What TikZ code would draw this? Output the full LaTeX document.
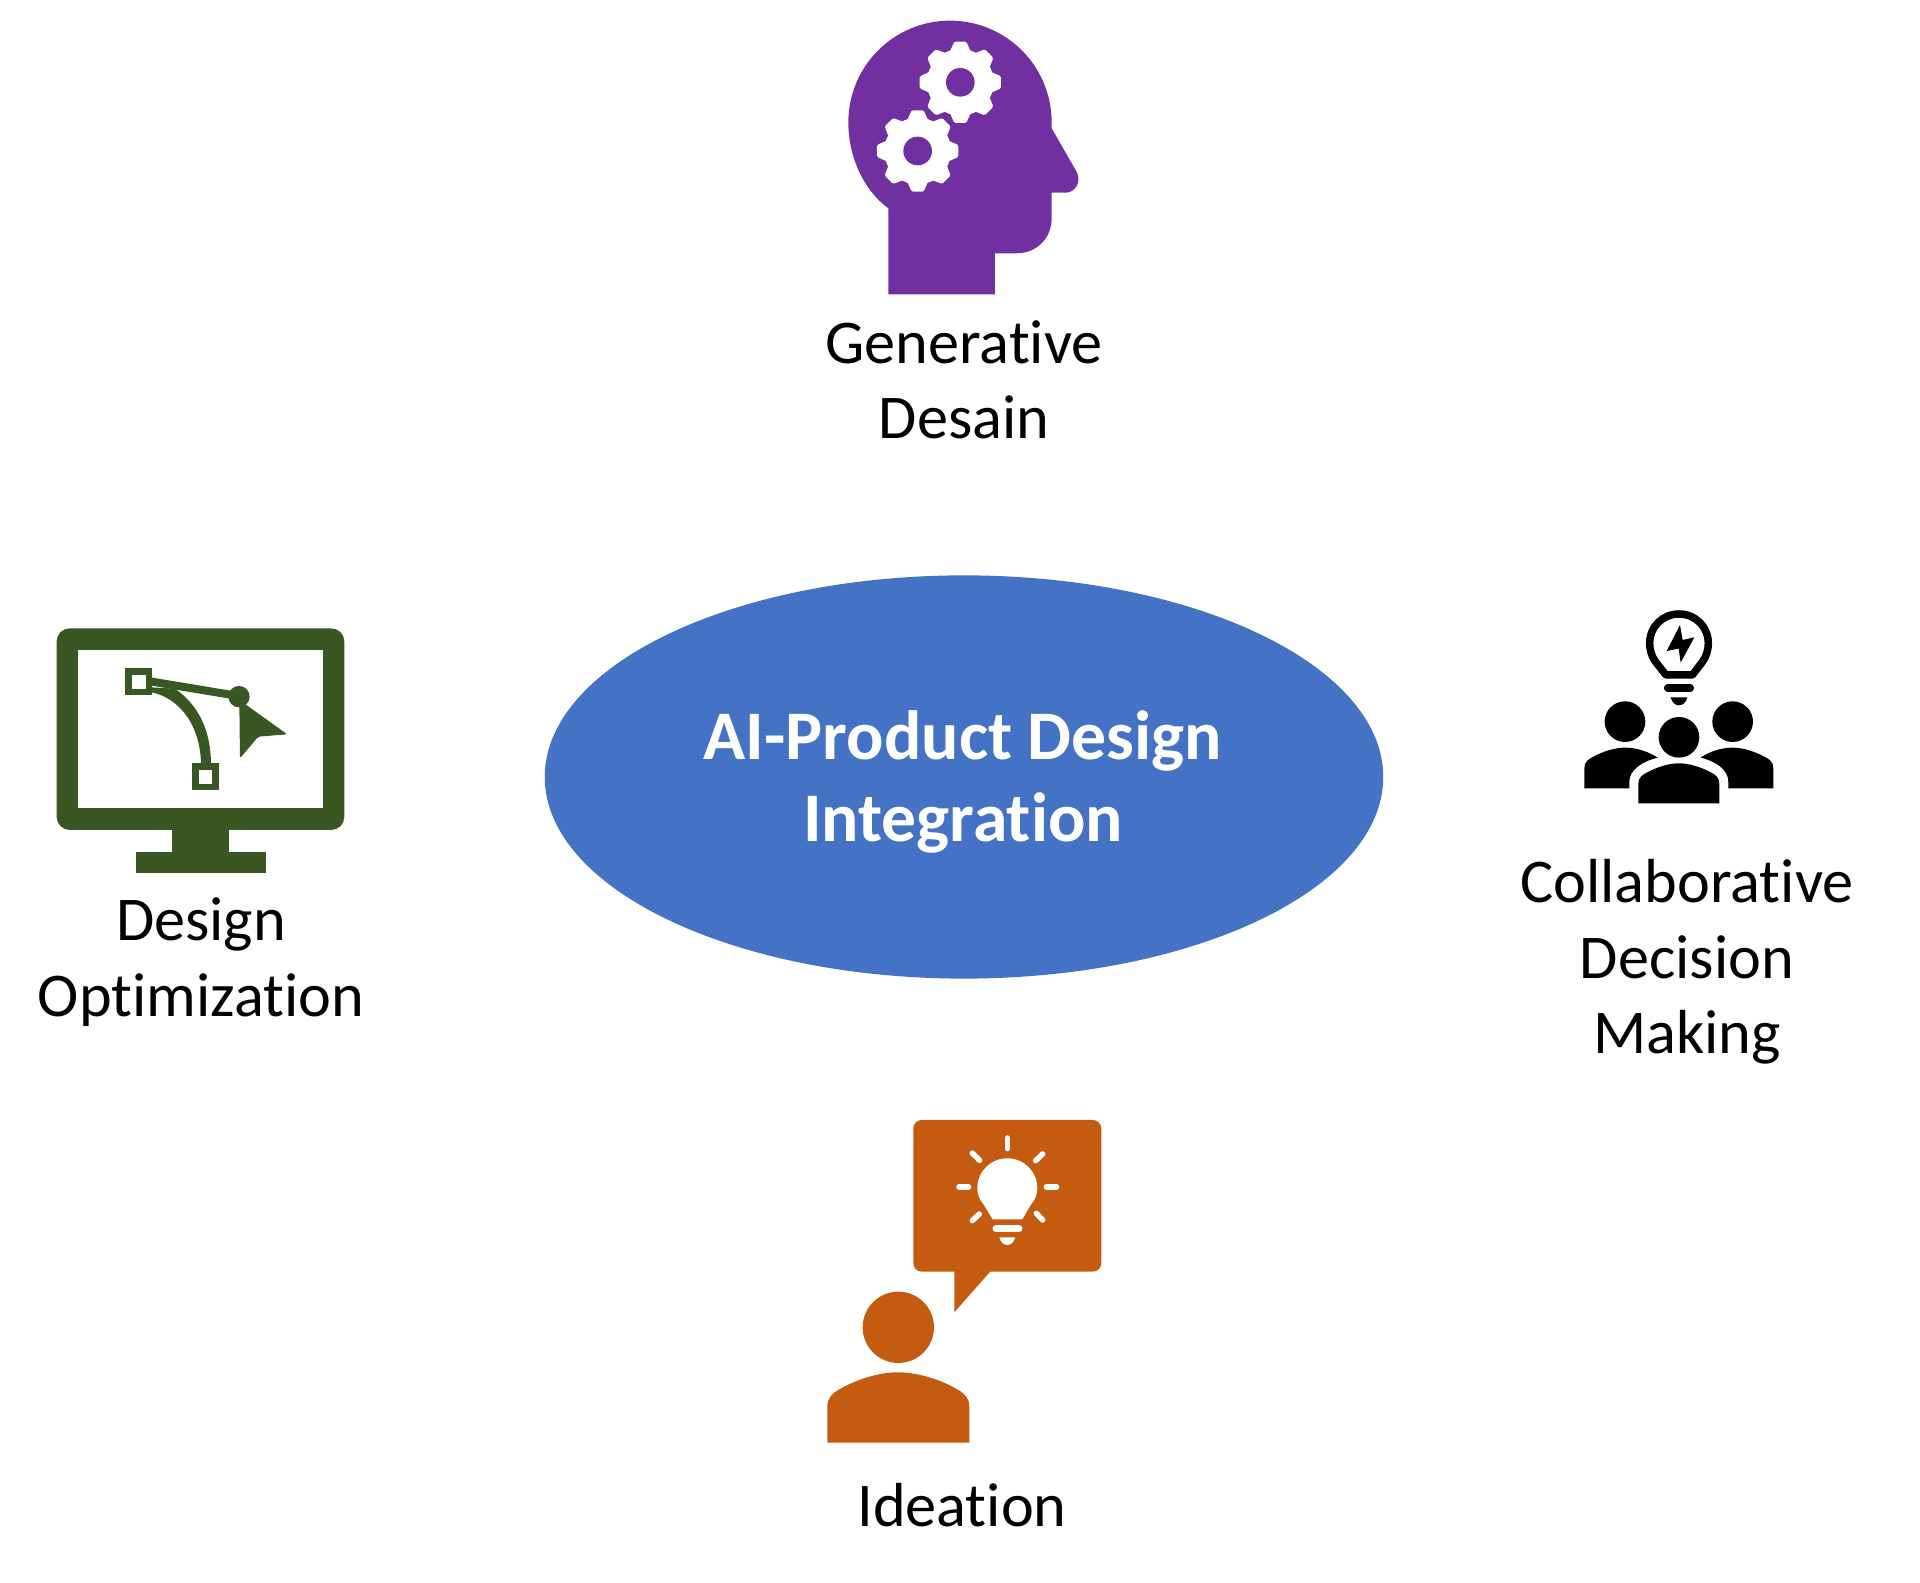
\documentclass[tikz,border=0pt]{standalone}
\usepackage{fontspec}
\setmainfont[Ligatures=NoCommon]{Carlito}
\usetikzlibrary{shapes.geometric}

% gear wheel, centre given, hole filled in the head colour
\newcommand{\gearwheel}[1]{%
    \begin{scope}[shift={#1}]
        \fill[white] (0,0) circle (100);
        \foreach \ang in {0,45,...,315} {
            \fill[white, rotate=\ang, rounded corners=0.4pt]
                (-33,-88) -- (-18,-122) -- (18,-122) -- (33,-88) -- cycle;
        }
        \fill[headcol] (0,0) circle (43);
    \end{scope}
}

\begin{document}
\begin{tikzpicture}[x=0.01cm, y=-0.01cm]

    % Office palette of the picture
    \definecolor{hubcol}{HTML}{4472C4}
    \definecolor{headcol}{HTML}{7030A0}
    \definecolor{screencol}{HTML}{385723}
    \definecolor{ideacol}{HTML}{C55A11}

    % Common text styles
    \tikzset{
        itemlabel/.style={font=\fontsize{17.7}{21.4}\selectfont, align=center, inner sep=0pt},
        hubshape/.style={shape=ellipse, fill=hubcol, minimum width=8.38cm, minimum height=4.03cm, inner sep=0pt},
        hublabel/.style={font=\fontsize{19.8}{23.3}\selectfont\bfseries, align=center, text=white, inner sep=0pt}
    }

    \useasboundingbox (0,0) rectangle (1920,1583);

    % ================== Central ellipse ==================
    \node[hubshape] (hub) at (964,777) {};
    \node[hublabel] (hubtext) at (963,782) {AI-Product Design\\Integration};

    % ================== Generative head ==================
    \begin{scope}[shift={(800,0)}, scale=0.3333]
        \fill[headcol] (265,883) -- (265,625)
            .. controls (190,570) and (145,470) .. (145,367)
            .. controls (145,198) and (282,62) .. (450,62)
            .. controls (618,62) and (755,198) .. (755,367)
            -- (755,385) -- (828,512)
            .. controls (848,545) and (825,578) .. (798,578)
            -- (755,578) -- (755,655)
            .. controls (755,715) and (710,760) .. (650,760)
            -- (585,760) -- (585,883) -- cycle;
        \gearwheel{(481,247)}
        \gearwheel{(353,453)}
    \end{scope}
    \node[itemlabel] (generative) at (964,380) {Generative\\Desain};

    % ================== Design monitor ==================
    \begin{scope}[shift={(30,610)}, scale=0.3333]
        \fill[screencol, rounded corners=0.13cm] (80,55) rectangle (943,660);
        \fill[white] (145,120) rectangle (880,595);
        \fill[screencol] (427,655) rectangle (598,730);
        \fill[screencol] (318,725) rectangle (707,790);
        % handle and curve
        \draw[screencol, line width=0.08cm] (360,214) -- (625,258);
        \fill[screencol] (360,232) -- (435,236)
            .. controls (505,285) and (543,360) .. (543,465)
            -- (513,465) .. controls (513,350) and (450,262) .. (360,246) -- cycle;
        % control squares
        \fill[screencol] (286,175) rectangle (367,256);
        \fill[white] (307,196) rectangle (347,236);
        \fill[screencol] (486,460) rectangle (567,541);
        \fill[white] (507,481) rectangle (547,521);
        % handle end and pointer
        \fill[screencol] (627,260) circle (32);
        \fill[screencol, rounded corners=0.5pt] (628,270) -- (772,373) -- (685,380) -- (630,445) -- cycle;
    \end{scope}
    \node[itemlabel] (optimization) at (201,962) {Design\\Optimization};

    % ================== Collaborative group ==================
    \begin{scope}[shift={(1560,590)}, scale=0.3333]
        % bulb
        \draw[black, line width=0.075cm, line join=round] (318,255) -- (287,216)
            .. controls (275,200) and (269,180) .. (269,160)
            .. controls (269,110) and (308,72) .. (357,72)
            .. controls (406,72) and (445,110) .. (445,160)
            .. controls (445,180) and (439,200) .. (427,216)
            -- (397,255) -- cycle;
        \draw[black, line width=0.075cm, line cap=round] (323,294) -- (391,294);
        \fill[black] (332,322) -- (382,322) .. controls (378,338) and (368,346) .. (357,346)
            .. controls (346,346) and (336,338) .. (332,322) -- cycle;
        \fill[black] (360,105) -- (320,183) -- (356,176) -- (362,218) -- (403,142) -- (368,150) -- cycle;
        % heads
        \fill[black] (195,395) circle (61);
        \fill[black] (518,395) circle (61);
        \fill[black] (357,442) circle (61);
        % side bodies
        \fill[black] (73,595) -- (73,535) .. controls (73,515) and (85,508) .. (100,500)
            .. controls (130,484) and (165,473) .. (195,473)
            .. controls (230,473) and (265,485) .. (293,503)
            .. controls (245,515) and (208,540) .. (208,575) -- (208,595) -- cycle;
        \fill[black] (640,595) -- (640,535) .. controls (640,515) and (628,508) .. (613,500)
            .. controls (583,484) and (548,473) .. (518,473)
            .. controls (483,473) and (448,485) .. (422,503)
            .. controls (470,515) and (505,540) .. (505,575) -- (505,595) -- cycle;
        % middle body
        \fill[black] (235,640) -- (235,582) .. controls (235,562) and (247,555) .. (262,547)
            .. controls (292,531) and (327,520) .. (357,520)
            .. controls (387,520) and (422,531) .. (452,547)
            .. controls (467,555) and (478,562) .. (478,582) -- (478,640) -- cycle;
    \end{scope}
    \node[itemlabel] (collaborative) at (1687,962) {Collaborative\\Decision\\Making};

    % ================== Ideation person ==================
    \begin{scope}[shift={(810,1100)}, scale=0.3333]
        \fill[ideacol, rounded corners=0.085cm] (310,60) rectangle (874,515);
        \fill[ideacol] (433,510) -- (433,637) -- (545,510) -- cycle;
        % bulb with rays
        \fill[white] (548,358) -- (522,315)
            .. controls (508,300) and (502,282) .. (502,265)
            .. controls (502,215) and (542,175) .. (592,175)
            .. controls (642,175) and (682,215) .. (682,265)
            .. controls (682,282) and (676,300) .. (662,315)
            -- (637,358) -- cycle;
        \draw[white, line width=0.07cm, line cap=round] (558,386) -- (627,386);
        \fill[white] (568,412) -- (616,412) .. controls (612,428) and (602,435) .. (592,435)
            .. controls (582,435) and (572,428) .. (568,412) -- cycle;
        \foreach \xa/\ya/\xb/\yb in {592/114/592/146, 447/261/476/261, 709/261/740/261,
                487/159/509/181, 698/162/677/182, 487/362/508/342, 698/360/679/340} {
            \draw[white, line width=0.055cm, line cap=round] (\xa,\ya) -- (\xb,\yb);
        }
        % person
        \fill[ideacol] (265,682) circle (107);
        \fill[ideacol] (52,1028) -- (52,920) .. controls (52,895) and (65,882) .. (85,870)
            .. controls (135,840) and (205,817) .. (262,817)
            .. controls (325,817) and (395,840) .. (445,870)
            .. controls (465,882) and (478,895) .. (478,920)
            -- (478,1028) -- cycle;
    \end{scope}
    \node[itemlabel] (ideation) at (962,1505) {Ideation};

\end{tikzpicture}
\end{document}
